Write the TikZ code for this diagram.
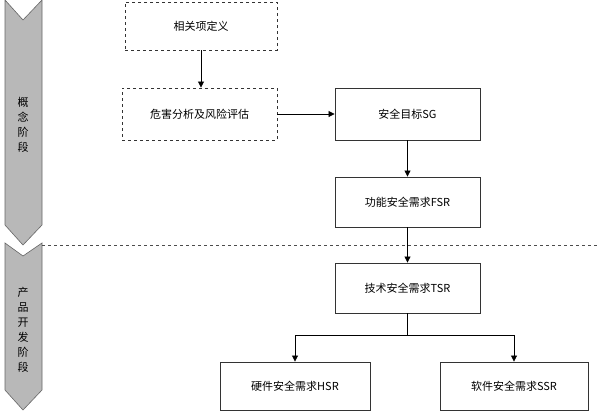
\documentclass[tikz,border=0pt]{standalone}
\usepackage{fontspec}
\setmainfont{Noto Sans CJK SC}
\usetikzlibrary{arrows.meta}
\begin{document}
\begin{tikzpicture}[x=1pt,y=-1pt,
  bx/.style={draw=black!80,line width=0.9pt,fill=white,font=\fontsize{11}{13}\selectfont},
  dbx/.style={bx,dashed},
  arr/.style={-{Triangle[length=6pt,width=6pt]},line width=0.8pt},
  chev/.style={draw=black!60,fill=black!28,line width=0.6pt}]
\useasboundingbox (0,0) rectangle (600,416);
\fill[white] (0,0) rectangle (600,416);
\draw[chev] (5,0) -- (23,20) -- (42,0) -- (42,225) -- (23,245) -- (5,225) -- cycle;
\draw[chev] (5,243) -- (23,256) -- (42,243) -- (42,390) -- (23,410) -- (5,390) -- cycle;
\node[font=\fontsize{11}{15}\selectfont,align=center] (c1) at (23,125) {概\\念\\阶\\段};
\node[font=\fontsize{11}{15}\selectfont,align=center] (c2) at (23,330) {产\\品\\开\\发\\阶\\段};
\draw[dashed,line width=0.8pt,black!70] (42,245) -- (598,245);
\node[dbx,minimum width=152pt,minimum height=48pt] (a) at (201,26) {相关项定义};
\node[dbx,minimum width=155pt,minimum height=52pt] (b) at (199.5,114) {危害分析及风险评估};
\node[bx,minimum width=145pt,minimum height=52pt] (sg) at (407.5,114) {安全目标SG};
\node[bx,minimum width=145pt,minimum height=50pt] (fsr) at (407.5,202) {功能安全需求FSR};
\node[bx,minimum width=145pt,minimum height=50pt] (tsr) at (407.5,288) {技术安全需求TSR};
\node[bx,minimum width=150pt,minimum height=48pt] (hsr) at (295,386) {硬件安全需求HSR};
\node[bx,minimum width=148pt,minimum height=48pt] (ssr) at (514,386) {软件安全需求SSR};
\draw[arr] (a.south) -- (b.north -| a.south);
\draw[arr] (b.east) -- (sg.west);
\draw[arr] (sg.south) -- (fsr.north);
\draw[arr] (fsr.south) -- (tsr.north);
\coordinate (j) at (407.5,335);
\draw[line width=0.8pt] (tsr.south) -- (j);
\draw[arr] (j) -| (hsr.north);
\draw[arr] (j) -| (ssr.north);
\end{tikzpicture}
\end{document}
